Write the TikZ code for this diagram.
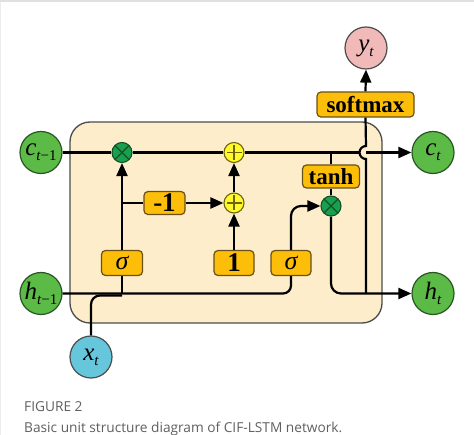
\documentclass[tikz,border=0pt]{standalone}
\usepackage{fontspec}
\newfontfamily\tnr{Liberation Serif}
\newfontfamily\capfont{Open Sans}
\usetikzlibrary{arrows.meta,calc}
\definecolor{bgbeige}{RGB}{253,237,203}
\definecolor{boxfill}{RGB}{252,190,8}
\definecolor{boxline}{RGB}{105,80,25}
\definecolor{cgreen}{RGB}{92,186,70}
\definecolor{cgreenline}{RGB}{40,85,35}
\definecolor{mulfill}{RGB}{24,160,78}
\definecolor{mulline}{RGB}{20,80,40}
\definecolor{plusfill}{RGB}{255,250,40}
\definecolor{plusline}{RGB}{110,100,20}
\definecolor{ypink}{RGB}{242,185,185}
\definecolor{xblue}{RGB}{102,198,220}
\definecolor{capgrey}{RGB}{95,95,95}
\newcommand\lab[2]{{\fontsize{25}{25}\selectfont\itshape #1}\raisebox{-5pt}{\fontsize{15}{15}\selectfont #2}}
\begin{document}
\begin{tikzpicture}[x=1pt,y=-1pt,
  wire/.style={line width=2.2pt,black},
  arr/.style={wire,-{Triangle[length=13pt,width=11pt]}},
  statenode/.style={circle,draw=cgreenline,line width=1.2pt,fill=cgreen,minimum size=42pt,inner sep=0pt,font=\tnr},
  opbox/.style={draw=boxline,line width=1.2pt,fill=boxfill,rounded corners=4pt,inner sep=0pt,font=\tnr\bfseries},
  mulgate/.style={circle,draw=mulline,line width=1.1pt,fill=mulfill,minimum size=20pt,inner sep=0pt,
    path picture={\draw[mulline,line width=1.1pt]
      ([shift={(45:10pt)}]path picture bounding box.center) -- ([shift={(225:10pt)}]path picture bounding box.center)
      ([shift={(135:10pt)}]path picture bounding box.center) -- ([shift={(315:10pt)}]path picture bounding box.center);}},
  plusgate/.style={circle,draw=plusline,line width=1.1pt,fill=plusfill,minimum size=20pt,inner sep=0pt,
    path picture={\draw[plusline,line width=1.1pt]
      ([shift={(0:7.5pt)}]path picture bounding box.center) -- ([shift={(180:7.5pt)}]path picture bounding box.center)
      ([shift={(90:7.5pt)}]path picture bounding box.center) -- ([shift={(270:7.5pt)}]path picture bounding box.center);}},
  captext/.style={anchor=base west,inner sep=0pt,text=capgrey,font=\capfont\fontsize{13.7}{15}\selectfont}
]
\useasboundingbox (0,0) rectangle (474,435);
\fill[black!12] (0,0) rectangle (474,2.5);
\fill[black!7] (0,2.5) rectangle (1,435);

% cell body
\draw[draw=black!70,line width=1.3pt,fill=bgbeige,rounded corners=20pt] (70,122) rectangle (382,323);

% external states
\node[statenode] (ctm1) at (41,152.5) {\lab{c}{\itshape t\upshape −1}};
\node[statenode] (ct) at (433,152.5) {\lab{c}{\itshape t}};
\node[statenode] (htm1) at (41,293.5) {\lab{h}{\itshape t\upshape −1}};
\node[statenode] (ht) at (433,293.5) {\lab{h}{\itshape t}};
\node[statenode,fill=xblue,draw=black!70] (xt) at (91,357) {\lab{x}{\itshape t}};
\node[statenode,fill=ypink,draw=black!70] (yt) at (366,48) {\lab{y}{\itshape t}};

% operation boxes
\node[opbox,minimum width=97pt,minimum height=25pt,font=\tnr\bfseries\fontsize{23}{23}\selectfont] (soft) at (365.5,104.5) {softmax};
\node[opbox,minimum width=57pt,minimum height=23pt,font=\tnr\bfseries\fontsize{23}{23}\selectfont] (tanh) at (331,176.5) {tanh};
\node[opbox,minimum width=41pt,minimum height=23pt,font=\tnr\bfseries\fontsize{27}{27}\selectfont] (m1) at (164.5,203) {-1};
\node[opbox,minimum width=41pt,minimum height=25pt,font=\tnr\itshape\fontsize{26}{26}\selectfont] (sig1) at (122,263) {σ};
\node[opbox,minimum width=40pt,minimum height=25pt,font=\tnr\bfseries\fontsize{27}{27}\selectfont] (one) at (234,263) {1};
\node[opbox,minimum width=40pt,minimum height=25pt,font=\tnr\itshape\fontsize{26}{26}\selectfont] (sig2) at (291,263) {σ};

% gates
\node[mulgate] (mul1) at (122,152.5) {};
\node[plusgate] (plus1) at (234,152.5) {};
\node[plusgate] (plus2) at (234,203) {};
\node[mulgate] (mul2) at (331,206) {};

% junction coordinates
\coordinate (jl) at (359.5,152.5);
\coordinate (jr) at (366,152.5);
\coordinate (jb) at (366,159);
\coordinate (hj) at (366,293.5);
\coordinate (s1b) at (122,293.5);
\coordinate (m1j) at (122,203);
\coordinate (tj) at (331,152.5);
\coordinate (s2c) at (291,293.5);
\coordinate (s2t) at (291,206);
\coordinate (m2c) at (331,293.5);
\coordinate (xc) at (91,295.5);
\coordinate (xe) at (122,295.5);

% cell state line
\draw[wire] (ctm1) -- (mul1) -- (plus1) -- (jl);
\draw[arr] (jr) -- (ct);
% output branch with hop over the cell line
\draw[wire] (hj) -- (jb) arc[start angle=90,end angle=270,radius=6.5] -- (soft.south);
\draw[arr] (soft.north) -- (yt.south);

% hidden input line
\draw[wire,rounded corners=8pt] (htm1.east) -- (s2c) -- (sig2.south);
\draw[wire,rounded corners=9pt] (xt.north) -- (xc) -- (xe);
\draw[wire] (s1b) -- (sig1.south);
\draw[arr] (sig1.north) -- (mul1.south);
\draw[wire] (m1j) -- (m1.west);
\draw[arr] (m1.east) -- (plus2.west);
\draw[arr] (one.north) -- (plus2.south);
\draw[arr] (plus2.north) -- (plus1.south);
\draw[arr,rounded corners=10pt] (sig2.north) -- (s2t) -- (mul2.west);
\draw[wire] (tj) -- (tanh.north);
\draw[wire] (tanh.south) -- (mul2.north);
\draw[arr,rounded corners=10pt] (mul2.south) -- (m2c) -- (ht.west);

% caption
\node[captext] (cap1) at (24,412) {FIGURE 2};
\node[captext] (cap2) at (24,432) {Basic unit structure diagram of CIF-LSTM network.};
\end{tikzpicture}
\end{document}
